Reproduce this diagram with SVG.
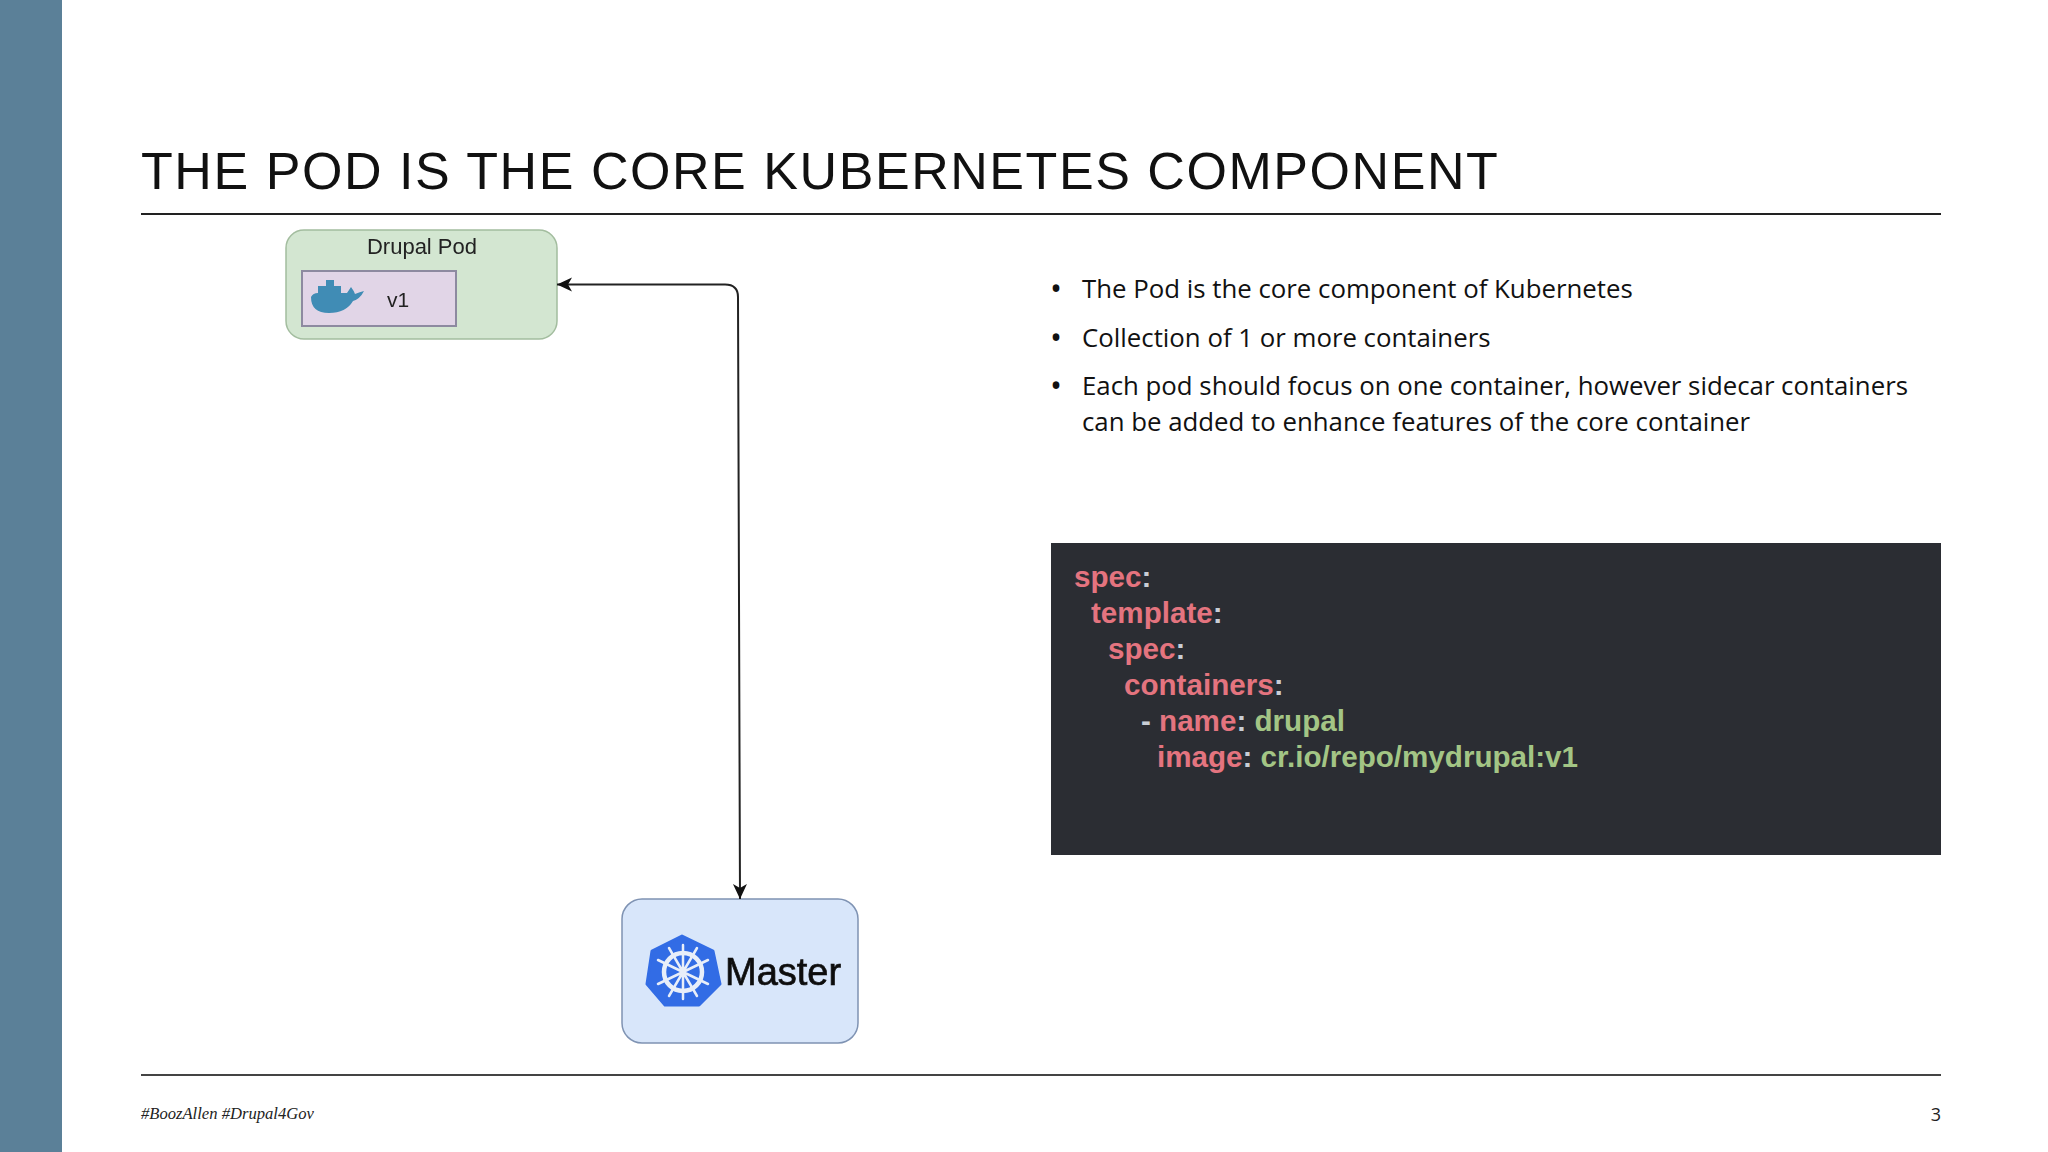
<svg xmlns="http://www.w3.org/2000/svg" width="2048" height="1152" viewBox="0 0 2048 1152">
<style>
.body{font-family:"Open Sans","Noto Sans",sans-serif;font-size:25.8px;fill:#111}
.bul{font-size:32px}
.code{font-family:"Liberation Sans",Arial,sans-serif;font-size:29.6px;font-weight:bold}
.k{fill:#e4747f}.p{fill:#c9ced6}.v{fill:#a3c585}
.conn{fill:none;stroke:#222;stroke-width:2}
</style>
<defs>
<marker id="arrow" markerWidth="16" markerHeight="16" refX="15" refY="8" orient="auto-start-reverse" markerUnits="userSpaceOnUse"><path d="M0 1L15 8L0 15L4 8Z" fill="#111"/></marker>
<filter id="soft" x="-5%" y="-5%" width="110%" height="110%"><feGaussianBlur stdDeviation="0.6"/></filter>
</defs>
<rect width="2048" height="1152" fill="#fff"/>
<rect id="sidebar" width="62" height="1152" fill="#5b8098"/>
<text id="title" x="141" y="189" font-family="Liberation Sans,Arial,sans-serif" font-size="52" letter-spacing="1.55" fill="#111">THE POD IS THE CORE KUBERNETES COMPONENT</text>
<line x1="141" y1="214" x2="1941" y2="214" stroke="#222" stroke-width="2"/>
<line x1="141" y1="1075" x2="1941" y2="1075" stroke="#444" stroke-width="2"/>
<g id="pod">
<rect x="286" y="230" width="271" height="109" rx="18" fill="#d3e6d1" stroke="#a3bd9f" stroke-width="1.5"/>
<text x="422" y="254" text-anchor="middle" font-family="Liberation Sans,Arial,sans-serif" font-size="22" fill="#222" filter="url(#soft)">Drupal Pod</text>
<rect x="302" y="271" width="154" height="55" fill="#e1d5e7" stroke="#8d8aa0" stroke-width="2"/>
<g fill="#3f8cb5" filter="url(#soft)"><path d="M311 297Q313 293 318 293V286H326V280H334V286H341V293H347Q349 290 351 287Q354 291 355 294Q360 292 364 291Q360 299 353 301Q346 313 329 313Q311 313 311 297Z"/></g>
<text x="398" y="307" text-anchor="middle" font-family="Liberation Sans,Arial,sans-serif" font-size="21" fill="#222" filter="url(#soft)">v1</text>
</g>
<g id="master">
<rect x="622" y="899" width="236" height="144" rx="20" fill="#d8e6fa" stroke="#7f93b3" stroke-width="1.5"/>
<polygon points="682,936 713,951 720,984 699,1005 665,1005 647,984 652,951" fill="#326ce5" stroke="#326ce5" stroke-width="3" stroke-linejoin="round" filter="url(#soft)"/>
<g fill="none" stroke="#e8eef9" stroke-linecap="round" filter="url(#soft)"><circle cx="683" cy="972" r="19" stroke-width="4.5"/><path stroke-width="2.5" d="M683 945V999M658 960L708 984M708 960L658 984M669 996L697 948M697 996L669 948"/></g>
<circle cx="683" cy="972" r="3" fill="#e8eef9"/>
<text x="725" y="985" font-family="Liberation Sans,Arial,sans-serif" font-size="38" fill="#111" stroke="#111" stroke-width=".7" filter="url(#soft)">Master</text>
</g>
<g id="connectors"><path class="conn" marker-start="url(#arrow)" marker-end="url(#arrow)" d="M557 284.500H725Q738 284.500 738 297L740 899"/></g>
<g id="bullets" class="body">
<text class="bul" x="1050" y="300">•</text><text x="1082" y="298">The Pod is the core component of Kubernetes</text>
<text class="bul" x="1050" y="349">•</text><text x="1082" y="347">Collection of 1 or more containers</text>
<text class="bul" x="1050" y="397">•</text><text x="1082" y="395">Each pod should focus on one container, however sidecar containers</text>
<text x="1082" y="431">can be added to enhance features of the core container</text>
</g>
<g id="code">
<rect x="1051" y="543" width="890" height="312" fill="#2b2d33"/>
<text class="code" x="1074" y="587"><tspan class="k">spec</tspan><tspan class="p">:</tspan></text>
<text class="code" x="1091" y="623"><tspan class="k">template</tspan><tspan class="p">:</tspan></text>
<text class="code" x="1108" y="659"><tspan class="k">spec</tspan><tspan class="p">:</tspan></text>
<text class="code" x="1124" y="695"><tspan class="k">containers</tspan><tspan class="p">:</tspan></text>
<text class="code" x="1141" y="731"><tspan class="p">- </tspan><tspan class="k">name</tspan><tspan class="p">: </tspan><tspan class="v">drupal</tspan></text>
<text class="code" x="1157" y="767"><tspan class="k">image</tspan><tspan class="p">: </tspan><tspan class="v">cr.io/repo/mydrupal:v1</tspan></text>
</g>
<text id="tag" x="141" y="1119" font-family="Liberation Serif,Times New Roman,serif" font-style="italic" font-size="16.600" fill="#222">#BoozAllen #Drupal4Gov</text>
<text id="page" x="1941" y="1121" text-anchor="end" font-family="Open Sans,sans-serif" font-size="18" fill="#222">3</text>
</svg>
